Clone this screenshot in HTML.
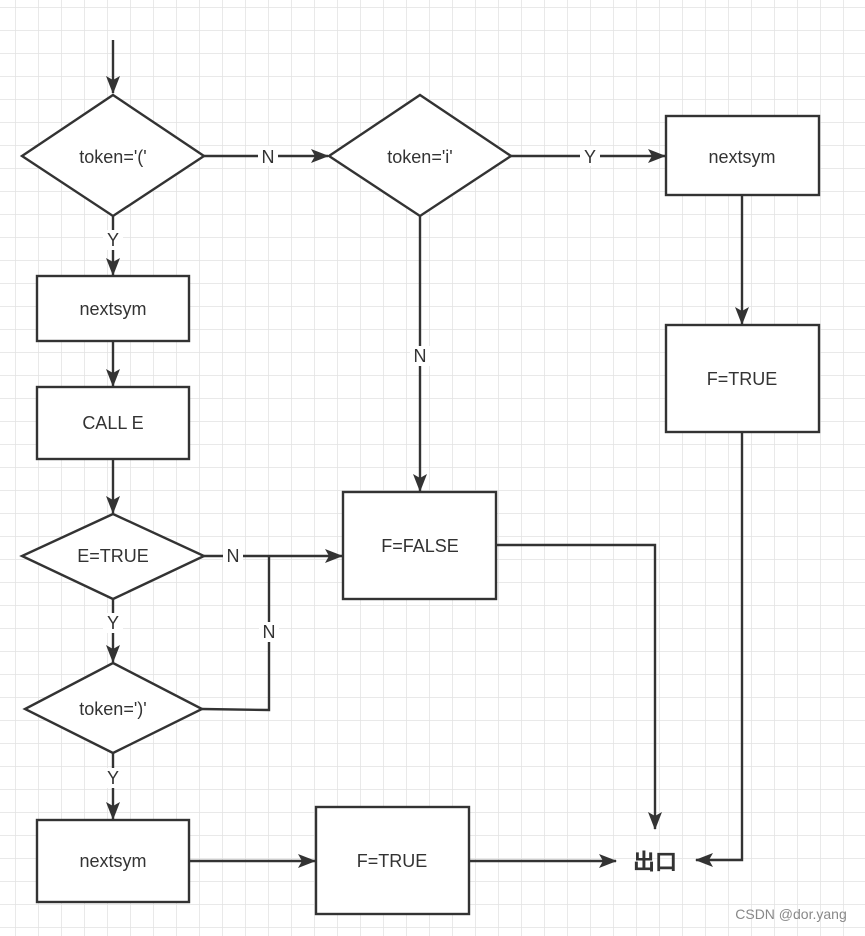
<!DOCTYPE html>
<html><head><meta charset="utf-8"><style>
html,body{margin:0;padding:0;background:#fff;}
svg{display:block;}
text{font-family:"Liberation Sans","Noto Sans CJK SC",sans-serif;fill:#333;}
</style></head><body>
<svg width="865" height="936" xmlns="http://www.w3.org/2000/svg">
<defs>
<pattern id="g" x="15" y="7" width="23" height="23" patternUnits="userSpaceOnUse">
<path d="M0 0H23M0 0V23" stroke="#e2e2e2" stroke-width="1.5" fill="none"/>
</pattern>
<marker id="a" markerWidth="18" markerHeight="14" refX="17" refY="7" orient="auto" markerUnits="userSpaceOnUse">
<path d="M0 0L18 7L0 14L4 7Z" fill="#333"/>
</marker>
</defs>
<rect width="865" height="936" fill="url(#g)"/>
<g stroke="#333" stroke-width="2.4" fill="#fff">
<polygon points="113,95 204,156 113,216 22,156"/>
<polygon points="420,95 511,156 420,216 329,156"/>
<polygon points="113,514 204,556 113,599 22,556"/>
<polygon points="113,663 202,709 113,753 25,709"/>
<rect x="666" y="116" width="153" height="79"/>
<rect x="666" y="325" width="153" height="107"/>
<rect x="37" y="276" width="152" height="65"/>
<rect x="37" y="387" width="152" height="72"/>
<rect x="343" y="492" width="153" height="107"/>
<rect x="37" y="820" width="152" height="82"/>
<rect x="316" y="807" width="153" height="107"/>
</g>
<g stroke="#333" stroke-width="2.4" fill="none" marker-end="url(#a)">
<path d="M113 40V93"/>
<path d="M204 156H328"/>
<path d="M511 156H665"/>
<path d="M742 195V324"/>
<path d="M742 432V860H696"/>
<path d="M113 216V275"/>
<path d="M113 341V386"/>
<path d="M113 459V513"/>
<path d="M204 556H342"/>
<path d="M420 216V491"/>
<path d="M496 545H655V829"/>
<path d="M113 599V662"/>
<path d="M113 753V819"/>
<path d="M189 861H315"/>
<path d="M469 861H616"/>
</g>
<path d="M202 709L269 710V556" stroke="#333" stroke-width="2.4" fill="none"/>
<g font-size="18" text-anchor="middle" dominant-baseline="central">
<rect x="258" y="146" width="20" height="20" fill="#fff"/><text x="268" y="157">N</text>
<rect x="580" y="146" width="20" height="20" fill="#fff"/><text x="590" y="157">Y</text>
<rect x="103" y="230" width="20" height="20" fill="#fff"/><text x="113" y="240">Y</text>
<rect x="410" y="346" width="20" height="20" fill="#fff"/><text x="420" y="356">N</text>
<rect x="223" y="546" width="20" height="20" fill="#fff"/><text x="233" y="556">N</text>
<rect x="259" y="622" width="20" height="20" fill="#fff"/><text x="269" y="632">N</text>
<rect x="103" y="613" width="20" height="20" fill="#fff"/><text x="113" y="623">Y</text>
<rect x="103" y="768" width="20" height="20" fill="#fff"/><text x="113" y="778">Y</text>
<text x="113" y="157">token='('</text>
<text x="420" y="157">token='i'</text>
<text x="742" y="157">nextsym</text>
<text x="742" y="379">F=TRUE</text>
<text x="113" y="309">nextsym</text>
<text x="113" y="423">CALL E</text>
<text x="113" y="556">E=TRUE</text>
<text x="420" y="546">F=FALSE</text>
<text x="113" y="709">token=')'</text>
<text x="113" y="861">nextsym</text>
<text x="392" y="861">F=TRUE</text>
<text x="655" y="862" font-size="22" font-weight="bold">出口</text>
</g>
<text x="791" y="919" font-size="14" text-anchor="middle" style="fill:#888">CSDN @dor.yang</text>
</svg>
</body></html>
